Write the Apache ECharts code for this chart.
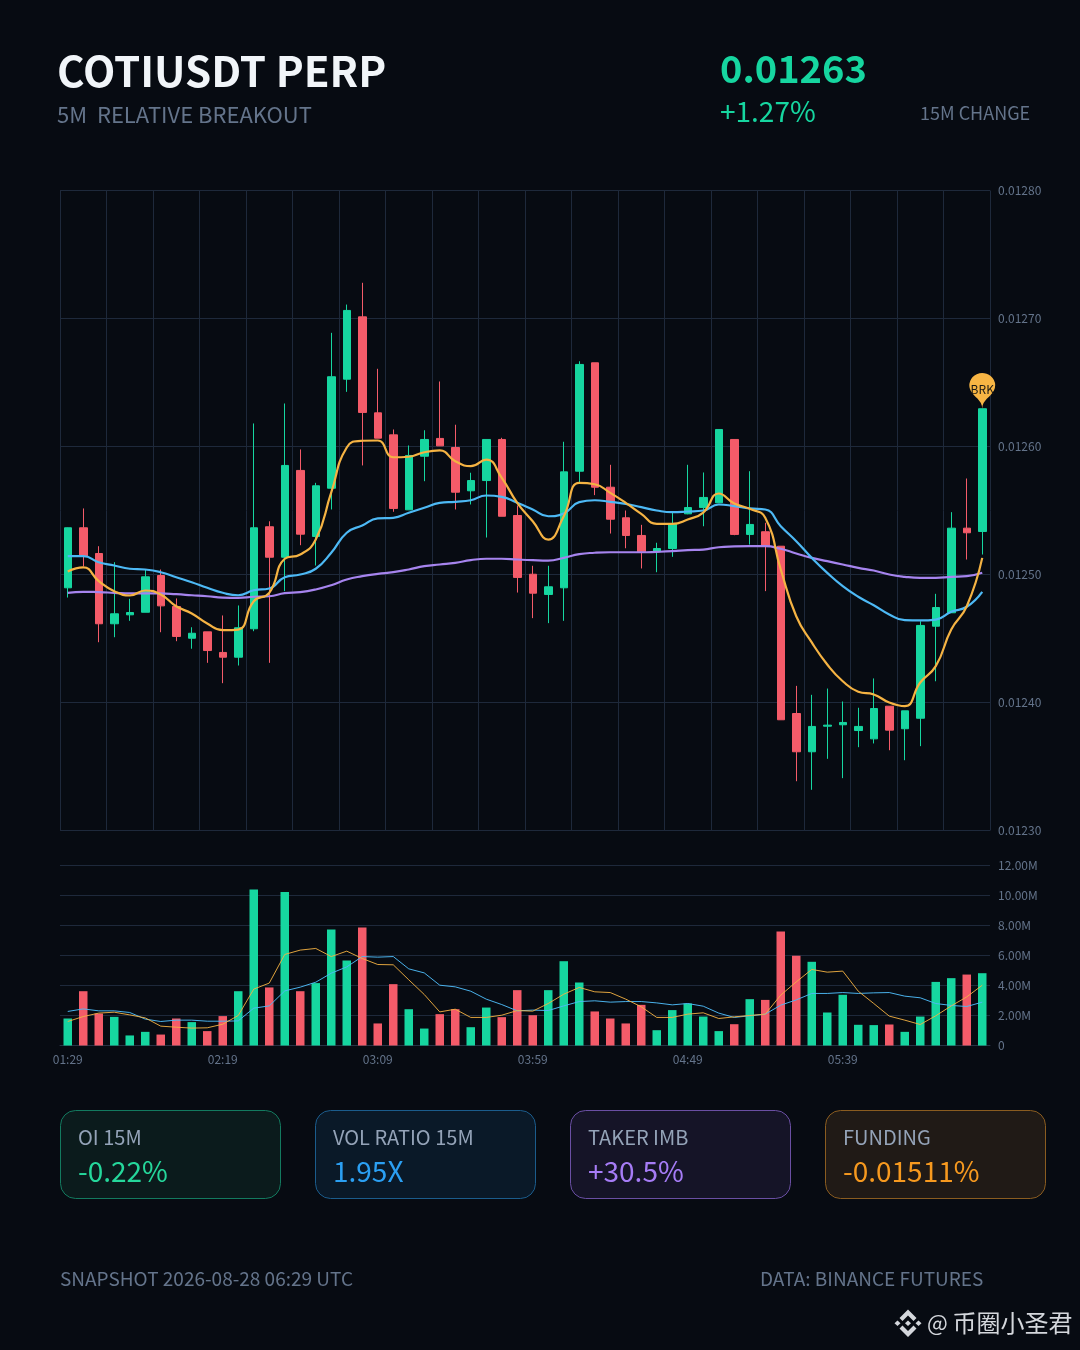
<!DOCTYPE html>
<html>
<head>
<meta charset="utf-8">
<style>html,body{margin:0;padding:0;background:#070b12}#c{width:1080px;height:1350px}</style>
<script src="https://cdn.jsdelivr.net/npm/echarts@6/dist/echarts.min.js"></script>
</head>
<body>
<div id="c"></div>
<script>
const times = ["01:29","01:34","01:39","01:44","01:49","01:54","01:59","02:04","02:09","02:14","02:19","02:24","02:29","02:34","02:39","02:44","02:49","02:54","02:59","03:04","03:09","03:14","03:19","03:24","03:29","03:34","03:39","03:44","03:49","03:54","03:59","04:04","04:09","04:14","04:19","04:24","04:29","04:34","04:39","04:44","04:49","04:54","04:59","05:04","05:09","05:14","05:19","05:24","05:29","05:34","05:39","05:44","05:49","05:54","05:59","06:04","06:09","06:14","06:19","06:24"];
const opens = [0.0124896,0.0125365,0.0125164,0.0124615,0.0124685,0.0124705,0.0124992,0.0124750,0.0124502,0.0124552,0.0124391,0.0124354,0.0124576,0.0125373,0.0125135,0.0125813,0.0125297,0.0125674,0.0126526,0.0127013,0.0126263,0.0126091,0.0125505,0.0125924,0.0126063,0.0125992,0.0125654,0.0125734,0.0126055,0.0125461,0.0125002,0.0124844,0.0124896,0.0125807,0.0126654,0.0125682,0.0125443,0.0125305,0.0125177,0.0125203,0.0125474,0.0125523,0.0125560,0.0126055,0.0125313,0.0125334,0.0125221,0.0123914,0.0123615,0.0123815,0.0123826,0.0123781,0.0123716,0.0123971,0.0123795,0.0123877,0.0124596,0.0124701,0.0125362,0.0125336];
const closes = [0.0125365,0.0125145,0.0124615,0.0124693,0.0124703,0.0124982,0.0124755,0.0124516,0.0124541,0.0124406,0.0124354,0.0124584,0.0125365,0.0125135,0.0125852,0.0125315,0.0125693,0.0126545,0.0127063,0.0126266,0.0126065,0.0125516,0.0125930,0.0126055,0.0126005,0.0125643,0.0125734,0.0126055,0.0125455,0.0124977,0.0124854,0.0124904,0.0125802,0.0126641,0.0125682,0.0125432,0.0125305,0.0125177,0.0125203,0.0125396,0.0125523,0.0125602,0.0126133,0.0125313,0.0125391,0.0125221,0.0123865,0.0123615,0.0123813,0.0123823,0.0123844,0.0123813,0.0123953,0.0123784,0.0123935,0.0124602,0.0124742,0.0125362,0.0125326,0.0126295];
const lows = [0.0124820,0.0125063,0.0124471,0.0124510,0.0124638,0.0124705,0.0124549,0.0124479,0.0124420,0.0124310,0.0124151,0.0124289,0.0124557,0.0124310,0.0124870,0.0125229,0.0125070,0.0125508,0.0126427,0.0125852,0.0126065,0.0125490,0.0125505,0.0125729,0.0126005,0.0125508,0.0125547,0.0125289,0.0125455,0.0124859,0.0124659,0.0124620,0.0124638,0.0125716,0.0125620,0.0125320,0.0125205,0.0125047,0.0125018,0.0125138,0.0125471,0.0125377,0.0125560,0.0125307,0.0125234,0.0124870,0.0123865,0.0123385,0.0123318,0.0123560,0.0123409,0.0123651,0.0123680,0.0123627,0.0123549,0.0123659,0.0124166,0.0124701,0.0125117,0.0125156];
const highs = [0.0125367,0.0125516,0.0125221,0.0125096,0.0124810,0.0125039,0.0125039,0.0124813,0.0124588,0.0124552,0.0124680,0.0124758,0.0126180,0.0125416,0.0126336,0.0125977,0.0125716,0.0126888,0.0127109,0.0127279,0.0126607,0.0126133,0.0126008,0.0126127,0.0126508,0.0126170,0.0125795,0.0126055,0.0126068,0.0125539,0.0125068,0.0125068,0.0126037,0.0126666,0.0126654,0.0125857,0.0125500,0.0125388,0.0125248,0.0125495,0.0125857,0.0125797,0.0126133,0.0126055,0.0125807,0.0125404,0.0125221,0.0124130,0.0124060,0.0124109,0.0124008,0.0123959,0.0124188,0.0123971,0.0123935,0.0124635,0.0124849,0.0125487,0.0125750,0.0126295];
const emaFast = [0.0125023,0.0125055,0.0124948,0.0124870,0.0124836,0.0124875,0.0124844,0.0124752,0.0124695,0.0124617,0.0124565,0.0124570,0.0124791,0.0124857,0.0125123,0.0125156,0.0125273,0.0125641,0.0125992,0.0126045,0.0126047,0.0125916,0.0125920,0.0125955,0.0125969,0.0125885,0.0125846,0.0125898,0.0125755,0.0125560,0.0125416,0.0125273,0.0125455,0.0125716,0.0125705,0.0125638,0.0125560,0.0125474,0.0125396,0.0125396,0.0125430,0.0125484,0.0125633,0.0125555,0.0125513,0.0125443,0.0125039,0.0124674,0.0124469,0.0124297,0.0124166,0.0124084,0.0124063,0.0124000,0.0123971,0.0124156,0.0124284,0.0124570,0.0124752,0.0125130];
const emaMid = [0.0125143,0.0125143,0.0125096,0.0125070,0.0125045,0.0125039,0.0125018,0.0124979,0.0124940,0.0124896,0.0124857,0.0124838,0.0124877,0.0124891,0.0124979,0.0125000,0.0125045,0.0125170,0.0125326,0.0125383,0.0125438,0.0125443,0.0125482,0.0125521,0.0125560,0.0125568,0.0125580,0.0125617,0.0125607,0.0125560,0.0125508,0.0125455,0.0125477,0.0125565,0.0125580,0.0125568,0.0125552,0.0125526,0.0125500,0.0125487,0.0125492,0.0125500,0.0125547,0.0125534,0.0125516,0.0125508,0.0125377,0.0125260,0.0125130,0.0125013,0.0124909,0.0124826,0.0124760,0.0124688,0.0124643,0.0124641,0.0124648,0.0124709,0.0124748,0.0124865];
const emaSlow = [0.0124857,0.0124865,0.0124862,0.0124857,0.0124852,0.0124852,0.0124852,0.0124846,0.0124838,0.0124830,0.0124820,0.0124818,0.0124826,0.0124830,0.0124854,0.0124862,0.0124883,0.0124916,0.0124961,0.0124987,0.0125005,0.0125018,0.0125039,0.0125065,0.0125078,0.0125091,0.0125112,0.0125123,0.0125123,0.0125117,0.0125112,0.0125109,0.0125130,0.0125159,0.0125170,0.0125174,0.0125174,0.0125174,0.0125177,0.0125182,0.0125190,0.0125195,0.0125213,0.0125219,0.0125221,0.0125221,0.0125201,0.0125164,0.0125130,0.0125104,0.0125078,0.0125052,0.0125031,0.0125000,0.0124982,0.0124974,0.0124974,0.0124982,0.0124987,0.0125013];
const volumes = [1800000,3620000,2130000,1910000,670000,910000,730000,1800000,1560000,960000,1960000,3620000,10400000,3870000,10240000,3620000,4160000,7730000,5670000,7870000,1470000,4090000,2420000,1130000,2090000,2420000,1220000,2530000,1890000,3690000,2020000,3690000,5620000,4200000,2270000,1800000,1470000,2710000,1020000,2360000,2800000,1930000,960000,1420000,3090000,3040000,7600000,5980000,5580000,2200000,3380000,1380000,1360000,1400000,910000,1930000,4240000,4490000,4730000,4820000];
const volMaFast = [1600000,1930000,2160000,2220000,2040000,1840000,1290000,1220000,1160000,1180000,1420000,2000000,3760000,4160000,6070000,6360000,6470000,5930000,6290000,5800000,5400000,5380000,4380000,3400000,2240000,2420000,1870000,1870000,2020000,2330000,2290000,2800000,3420000,3870000,3580000,3530000,3090000,2580000,1870000,1870000,2090000,2180000,1800000,1910000,2000000,2090000,3360000,4240000,5070000,4890000,4960000,3620000,2800000,1960000,1690000,1400000,1980000,2640000,3240000,4020000];
const volMaSlow = [2270000,2440000,2310000,2310000,2200000,1760000,1600000,1690000,1690000,1620000,1620000,1640000,2490000,2640000,3640000,3890000,4220000,4820000,5240000,5930000,5890000,5930000,5110000,4840000,4020000,3910000,3620000,3090000,2730000,2310000,2360000,2330000,2640000,2930000,2980000,2890000,2930000,2930000,2840000,2710000,2800000,2620000,2160000,1870000,1980000,2090000,2690000,3040000,3470000,3470000,3530000,3470000,3510000,3530000,3290000,3180000,2800000,2670000,2600000,2890000];
const priceTicks = {min:0.0123,max:0.0128,step:0.0001};
const volumeTicks = {min:0,max:12000000,step:2000000};
const lastPrice = "0.01263", change15m = "+1.27%";
const cards = [
 {label:"OI 15M",value:"-0.22%",x:60,fill:"#0b1b1c",stroke:"#137a5f",color:"#25d79b"},
 {label:"VOL RATIO 15M",value:"1.95X",x:315,fill:"#0a1928",stroke:"#1b5c8c",color:"#2b9ff2"},
 {label:"TAKER IMB",value:"+30.5%",x:570,fill:"#151427",stroke:"#6a4fa3",color:"#a67cf6"},
 {label:"FUNDING",value:"-0.01511%",x:825,fill:"#201a16",stroke:"#8a5c20",color:"#f6991f"}
];

const FONT = '"Noto Sans CJK SC","Noto Sans",sans-serif';
const UP = '#16d6a0', DOWN = '#f45b69', GRID = '#1e293b', AXT = '#64748b';
const txt = (text,x,y,size,fill,weight,align) => ({type:'text',silent:true,style:{text,x,y,fontSize:size,fill,fontFamily:FONT,fontWeight:weight||400,textAlign:align||'left',textVerticalAlign:'middle'}});
const LOGO = '#d4d7dc';
const poly = pts => ({type:'polygon',silent:true,shape:{points:pts},style:{fill:LOGO}});

const graphics = [
 txt("COTIUSDT PERP",57,71,42,"#f1f5f9",700),
 txt("5M  RELATIVE BREAKOUT",57,114.5,22,"#64748b"),
 txt(lastPrice,720,69,38,UP,700),
 txt(change15m,720,111.5,28,UP),
 txt("15M CHANGE",920,113,18,"#64748b"),
 txt("SNAPSHOT 2026-08-28 06:29 UTC",60,1278.5,19,"#64748b"),
 txt("DATA: BINANCE FUTURES",760,1278.5,19,"#64748b"),
 txt("@",927,1323,22,LOGO),
 txt("币圈小圣君",952.5,1323,24,LOGO),
 poly([[908,1309.5],[916.5,1318],[913.5,1321],[908,1315.5],[902.5,1321],[899.5,1318]]),
 poly([[908,1337],[916.5,1328.5],[913.5,1325.5],[908,1331],[902.5,1325.5],[899.5,1328.5]]),
 poly([[897.5,1320.5],[900.5,1323.3],[897.5,1326],[894.5,1323.3]]),
 poly([[918.5,1320.5],[921.5,1323.3],[918.5,1326],[915.5,1323.3]]),
 poly([[908,1320.5],[911,1323.3],[908,1326],[905,1323.3]])
];
cards.forEach(c=>{
 graphics.push({type:'rect',silent:true,shape:{x:c.x+.5,y:1110.5,width:220,height:88,r:15},style:{fill:c.fill,stroke:c.stroke,lineWidth:1}});
 graphics.push(txt(c.label,c.x+18,1137.5,20,"#94a3b8"));
 graphics.push(txt(c.value,c.x+18,1171,28,c.color));
});

const candleData = times.map((t,i)=>[opens[i],closes[i],lows[i],highs[i]]);
const volData = volumes.map((v,i)=>({value:v,itemStyle:{color:closes[i]>=opens[i]?UP:DOWN}}));
const mkLine = (name,data,color,width,xi,yi,smooth,opacity)=>({name,type:'line',data,xAxisIndex:xi,yAxisIndex:yi,symbol:'none',smooth,silent:true,z:5,lineStyle:{color,width,opacity:opacity==null?1:opacity}});

const chart = echarts.init(document.getElementById('c'),null,{width:1080,height:1350});
chart.setOption({
 animation:false,
 backgroundColor:'#070b12',
 textStyle:{fontFamily:FONT},
 grid:[
  {left:60,top:190.5,width:930,height:640},
  {left:60,top:865.5,width:930,height:180}
 ],
 xAxis:[
  {type:'category',gridIndex:0,data:times,boundaryGap:true,
   axisLine:{show:false},axisTick:{show:false},axisLabel:{show:false},
   splitLine:{show:true,interval:2,lineStyle:{color:GRID,width:1}}},
  {type:'category',gridIndex:1,data:times,boundaryGap:true,
   axisLine:{show:true,lineStyle:{color:'#273345'}},axisTick:{show:false},
   axisLabel:{interval:9,color:AXT,fontSize:12,margin:8,fontFamily:FONT},
   splitLine:{show:false}}
 ],
 yAxis:[
  {type:'value',gridIndex:0,position:'right',min:priceTicks.min,max:priceTicks.max,interval:priceTicks.step,
   axisLine:{show:false},axisTick:{show:false},
   axisLabel:{color:AXT,fontSize:12,margin:8,fontFamily:FONT,formatter:v=>v.toFixed(5)},
   splitLine:{show:true,lineStyle:{color:GRID,width:1}}},
  {type:'value',gridIndex:1,position:'right',min:volumeTicks.min,max:volumeTicks.max,interval:volumeTicks.step,
   axisLine:{show:false},axisTick:{show:false},
   axisLabel:{color:AXT,fontSize:12,margin:8,fontFamily:FONT,formatter:v=>v===0?'0':(v/1e6).toFixed(2)+'M'},
   splitLine:{show:true,lineStyle:{color:GRID,width:1}}}
 ],
 series:[
  {name:'Price',type:'candlestick',xAxisIndex:0,yAxisIndex:0,data:candleData,barWidth:8,silent:true,z:3,
   itemStyle:{color:UP,color0:DOWN,borderColor:UP,borderColor0:DOWN,borderWidth:1},
   markPoint:{silent:true,symbol:'pin',symbolSize:[43,41],
    data:[{name:'BRK',coord:[times.length-1,highs[highs.length-1]]}],
    itemStyle:{color:'#f7b544'},
    label:{show:true,formatter:'BRK',color:'#1c1a14',fontSize:12,fontFamily:FONT,offset:[0,2]}}},
  mkLine('EMA slow',emaSlow,'#a684ee',2.2,0,0,true),
  mkLine('EMA mid',emaMid,'#4db9f5',2.2,0,0,true),
  mkLine('EMA fast',emaFast,'#f5b343',2.2,0,0,true),
  {name:'Volume',type:'bar',xAxisIndex:1,yAxisIndex:1,data:volData,barWidth:8.5,silent:true,z:3},
  mkLine('Vol MA slow',volMaSlow,'#4db9f5',1,1,1,false,0.95),
  mkLine('Vol MA fast',volMaFast,'#f5b343',1,1,1,false,0.9)
 ],
 graphic:{elements:graphics}
});
</script>
</body>
</html>
